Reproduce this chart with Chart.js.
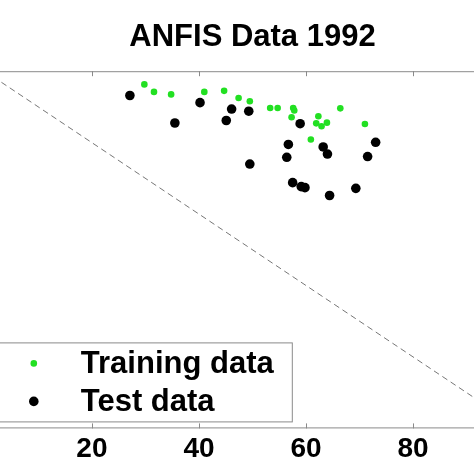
<!DOCTYPE html>
<html>
<head>
<meta charset="utf-8">
<script src="https://cdn.jsdelivr.net/npm/chart.js@4.4.1/dist/chart.umd.min.js"></script>
<style>
  html, body { margin: 0; padding: 0; background: #fff; overflow: hidden; }
  #wrap { position: absolute; left: -20px; top: 0; width: 545px; height: 474px; }
</style>
</head>
<body>
<div id="wrap"><canvas id="scatter" width="545" height="474"></canvas></div>
<script>
// values
const trainX = [29.8, 31.6, 34.8, 41.0, 44.7, 47.4, 49.5, 53.3, 54.7, 57.6, 57.8, 57.3, 62.3, 61.9, 62.9, 63.9, 66.4, 71.0, 60.9];
const trainY = [96.3, 94.2, 93.5, 94.2, 94.5, 92.5, 91.6, 89.7, 89.7, 89.7, 89.0, 87.1, 87.4, 85.4, 84.6, 85.6, 89.6, 85.2, 80.9];
const testX = [27.1, 35.5, 40.2, 45.1, 46.1, 49.3, 49.5, 58.9, 56.7, 56.4, 57.5, 59.1, 59.8, 63.2, 64.0, 64.4, 69.3, 71.5, 73.0];
const testY = [93.2, 85.5, 91.2, 86.2, 89.4, 88.8, 74.0, 85.3, 79.5, 75.9, 68.8, 67.7, 67.4, 78.8, 76.8, 65.2, 67.2, 76.1, 80.1];
const lineX = [0, 100];
const lineY = [100, 0];
const xTicks = [20, 40, 60, 80];

const FONT = "'Liberation Sans', Arial, sans-serif";
const toPts = (xs, ys) => xs.map((x, i) => ({ x: x, y: ys[i] }));

// box round the axes with inward tick marks, MATLAB style
const frame = {
    id: "frame",
    afterDatasetsDraw(chart) {
        const ctx = chart.ctx, a = chart.chartArea, sx = chart.scales.x;
        ctx.save();
        ctx.strokeStyle = "#8a8a8a";
        ctx.lineWidth = 1;
        ctx.strokeRect(a.left + 0.5, a.top + 0.5, a.right - a.left - 1, a.bottom - a.top - 1);
        ctx.beginPath();
        sx.ticks.forEach(t => {
            const px = Math.round(sx.getPixelForValue(t.value)) + 0.5;
            ctx.moveTo(px, a.bottom); ctx.lineTo(px, a.bottom - 5);
            ctx.moveTo(px, a.top); ctx.lineTo(px, a.top + 5);
        });
        ctx.stroke();
        ctx.restore();
    }
};

const legendBox = {
    id: "legendBox",
    afterDraw(chart) {
        const ctx = chart.ctx, a = chart.chartArea;
        const sets = chart.data.datasets.filter(d => d.label);
        const x0 = a.left - 20, x1 = a.left + 308;
        const y1 = a.bottom - 6, y0 = y1 - 80;
        ctx.save();
        ctx.fillStyle = "#fff";
        ctx.fillRect(x0, y0, x1 - x0, y1 - y0);
        ctx.strokeStyle = "#8a8a8a";
        ctx.lineWidth = 1;
        ctx.strokeRect(x0 + 0.5, y0 + 0.5, x1 - x0 - 1, y1 - y0 - 1);
        sets.forEach((d, i) => {
            const cy = y0 + 21 + i * 38;
            ctx.fillStyle = d.backgroundColor;
            ctx.beginPath();
            ctx.arc(a.left + 49, cy, d.pointRadius, 0, Math.PI * 2);
            ctx.fill();
            ctx.fillStyle = "#000";
            ctx.font = "bold 31px " + FONT;
            ctx.textBaseline = "middle";
            ctx.fillText(d.label, a.left + 96, cy + 1);
        });
        ctx.restore();
    }
};

new Chart(document.getElementById("scatter").getContext("2d"), {
    type: "scatter",
    data: {
        datasets: [{
            label: "Training data",
            data: toPts(trainX, trainY),
            backgroundColor: "#22e022",
            borderWidth: 0,
            pointRadius: 3.3
        }, {
            label: "Test data",
            data: toPts(testX, testY),
            backgroundColor: "#000",
            borderWidth: 0,
            pointRadius: 4.8
        }, {
            type: "line",
            data: toPts(lineX, lineY),
            borderColor: "#777",
            borderWidth: 1,
            borderDash: [6, 4],
            pointRadius: 0,
            fill: false
        }]
    },
    options: {
        responsive: false,
        animation: false,
        devicePixelRatio: 1,
        layout: { padding: { left: 0, right: 0, top: 0, bottom: 4 } },
        plugins: {
            legend: { display: false },
            tooltip: { enabled: false },
            title: {
                display: true,
                text: "ANFIS Data 1992",
                color: "#000",
                font: { size: 31, weight: "bold", family: FONT },
                padding: { top: 19, bottom: 15 }
            }
        },
        scales: {
            x: {
                type: "linear",
                min: 0,
                max: 100,
                afterBuildTicks: s => { s.ticks = xTicks.map(v => ({ value: v })); },
                grid: { display: false, drawTicks: false, tickLength: 0 },
                border: { display: false },
                ticks: {
                    color: "#000",
                    padding: 4,
                    maxRotation: 0,
                    font: { size: 28, weight: "bold", family: FONT }
                }
            },
            y: {
                min: 0,
                max: 100,
                display: false
            }
        }
    },
    plugins: [frame, legendBox]
});
</script>
</body>
</html>
